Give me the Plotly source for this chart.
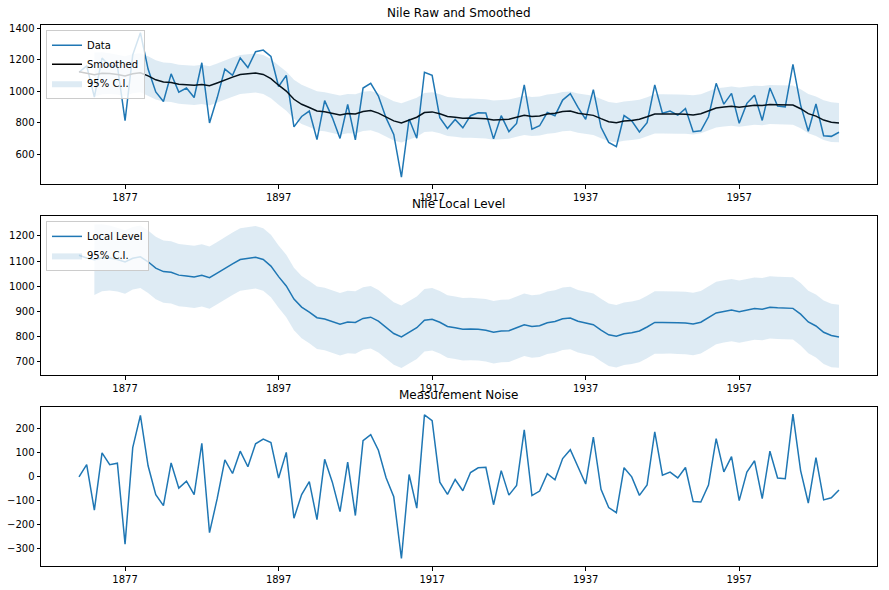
import plotly.graph_objects as go

# Nile river annual flow, 1871-1970
years = list(range(1871, 1971))
flow = [1120, 1160, 963, 1210, 1160, 1160, 813, 1230, 1370, 1140,
        995, 935, 1110, 994, 1020, 960, 1180, 799, 958, 1140,
        1100, 1210, 1150, 1250, 1260, 1220, 1030, 1100, 774, 840,
        874, 694, 940, 833, 701, 916, 692, 1020, 1050, 969,
        831, 726, 456, 824, 702, 1120, 1100, 832, 764, 821,
        768, 845, 864, 862, 698, 845, 744, 796, 1040, 759,
        781, 865, 845, 944, 984, 897, 822, 1010, 771, 676,
        649, 846, 812, 742, 801, 1040, 860, 874, 848, 890,
        744, 749, 838, 1050, 918, 986, 797, 923, 975, 815,
        1020, 906, 901, 1170, 912, 746, 919, 718, 714, 740]

# smoothed level
level = [1123, 1112, 1105, 1113, 1112, 1106, 1096, 1111, 1117, 1097,
         1072, 1058, 1055, 1044, 1041, 1037, 1043, 1034, 1052, 1072,
         1089, 1106, 1111, 1115, 1106, 1080, 1038, 1001, 949, 917,
         897, 875, 870, 858, 849, 858, 856, 872, 877, 861,
         838, 812, 799, 817, 835, 865, 869, 857, 840, 835,
         829, 830, 829, 825, 817, 822, 823, 835, 847, 840,
         843, 855, 860, 871, 874, 861, 855, 847, 826, 807,
         801, 811, 815, 822, 838, 856, 856, 857, 855, 854,
         850, 857, 875, 894, 900, 905, 899, 906, 911, 909,
         916, 914, 912, 912, 889, 858, 842, 817, 804, 798]

# 95% band, shown from 1873 on
ci_years = list(range(1873, 1971))
ci_lower = [965, 980, 983, 979, 970, 987, 993, 973,
            948, 934, 931, 920, 917, 913, 919, 910, 928, 948,
            965, 982, 987, 991, 982, 956, 914, 877, 825, 793,
            773, 751, 746, 734, 725, 734, 732, 748, 753, 737,
            714, 688, 675, 693, 711, 741, 745, 733, 716, 711,
            705, 706, 705, 701, 693, 698, 699, 711, 723, 716,
            719, 731, 736, 747, 750, 737, 731, 723, 702, 683,
            677, 687, 691, 698, 714, 732, 732, 733, 731, 730,
            726, 733, 751, 770, 776, 781, 775, 782, 787, 785,
            792, 790, 788, 788, 765, 734, 717, 691, 678, 676]
ci_upper = [1245, 1246, 1241, 1233, 1222, 1235, 1241, 1221,
            1196, 1182, 1179, 1168, 1165, 1161, 1167, 1158, 1176, 1196,
            1213, 1230, 1235, 1239, 1230, 1204, 1162, 1125, 1073, 1041,
            1021, 999, 994, 982, 973, 982, 980, 996, 1001, 985,
            962, 936, 923, 941, 959, 989, 993, 981, 964, 959,
            953, 954, 953, 949, 941, 946, 947, 959, 971, 964,
            967, 979, 984, 995, 998, 985, 979, 971, 950, 931,
            925, 935, 939, 946, 962, 980, 980, 981, 979, 978,
            974, 981, 999, 1018, 1024, 1029, 1023, 1030, 1035, 1033,
            1040, 1038, 1036, 1036, 1013, 982, 967, 943, 930, 926]

noise = [-3, 48, -142, 97, 48, 54, -283, 119, 253, 43,
         -77, -123, 55, -50, -21, -77, 137, -235, -94, 68,
         11, 104, 39, 135, 154, 140, -8, 99, -175, -77,
         -23, -181, 70, -25, -148, 58, -164, 148, 173, 108,
         -7, -86, -343, 7, -133, 255, 231, -25, -76, -14,
         -61, 15, 35, 37, -119, 23, -79, -39, 193, -81,
         -62, 10, -15, 73, 110, 36, -33, 163, -55, -131,
         -152, 35, -3, -80, -37, 184, 4, 17, -7, 36,
         -106, -108, -37, 156, 18, 81, -102, 17, 64, -94,
         104, -8, -11, 258, 23, -112, 77, -99, -90, -58]

xticks = [1877, 1897, 1917, 1937, 1957]
y1ticks = [600, 800, 1000, 1200, 1400]
y2ticks = [700, 800, 900, 1000, 1100, 1200]
y3ticks = [-300, -200, -100, 0, 100, 200]

blue = '#1f77b4'
band = 'rgba(31,119,180,0.15)'
W, H = 889, 590

fig = go.Figure()

# panel 1
fig.add_trace(go.Scatter(x=years, y=flow, mode='lines', name='Data',
                         line=dict(color=blue, width=1.5),
                         xaxis='x', yaxis='y', legend='legend'))
fig.add_trace(go.Scatter(x=years, y=level, mode='lines', name='Smoothed',
                         line=dict(color='black', width=1.5),
                         xaxis='x', yaxis='y', legend='legend'))
fig.add_trace(go.Scatter(x=ci_years, y=ci_lower, mode='lines', line=dict(width=0),
                         showlegend=False, hoverinfo='skip',
                         xaxis='x', yaxis='y', legend='legend'))
fig.add_trace(go.Scatter(x=ci_years, y=ci_upper, mode='lines', line=dict(width=0),
                         fill='tonexty', fillcolor=band, name='95% C.I.',
                         xaxis='x', yaxis='y', legend='legend'))

# panel 2
fig.add_trace(go.Scatter(x=years, y=level, mode='lines', name='Local Level',
                         line=dict(color=blue, width=1.5),
                         xaxis='x2', yaxis='y2', legend='legend2'))
fig.add_trace(go.Scatter(x=ci_years, y=ci_lower, mode='lines', line=dict(width=0),
                         showlegend=False, hoverinfo='skip',
                         xaxis='x2', yaxis='y2', legend='legend2'))
fig.add_trace(go.Scatter(x=ci_years, y=ci_upper, mode='lines', line=dict(width=0),
                         fill='tonexty', fillcolor=band, name='95% C.I.',
                         xaxis='x2', yaxis='y2', legend='legend2'))

# panel 3
fig.add_trace(go.Scatter(x=years, y=noise, mode='lines', showlegend=False,
                         line=dict(color=blue, width=1.5),
                         xaxis='x3', yaxis='y3'))

xdom = [41 / W, 877 / W]
doms = [[1 - 182.3 / H, 1 - 22.3 / H],
        [1 - 374 / H, 1 - 214.3 / H],
        [1 - 566.3 / H, 1 - 406.3 / H]]

ax_style = dict(showline=True, linecolor='black', linewidth=1, mirror=True,
                ticks='outside', ticklen=3.5, tickwidth=1, tickcolor='black',
                showgrid=False, zeroline=False,
                tickfont=dict(family='DejaVu Sans', size=10, color='black'))

def minus(v):
    return str(v).replace('-', '\u2212')

layout = dict(width=W, height=H, margin=dict(l=0, r=0, t=0, b=0),
              paper_bgcolor='white', plot_bgcolor='white',
              font=dict(family='DejaVu Sans', size=10, color='black'))
yranges = [[410, 1418], [647, 1278], [-376, 287]]
yticks = [y1ticks, y2ticks, y3ticks]
for i in range(3):
    s = '' if i == 0 else str(i + 1)
    layout['xaxis' + s] = dict(ax_style, domain=xdom, range=[1866.05, 1974.95],
                               tickvals=xticks, ticktext=[str(t) for t in xticks],
                               anchor='y' + s)
    layout['yaxis' + s] = dict(ax_style, domain=doms[i], range=yranges[i],
                               tickvals=yticks[i], ticktext=[minus(t) for t in yticks[i]],
                               anchor='x' + s)
fig.update_layout(**layout)

leg = dict(xanchor='left', yanchor='top', bgcolor='rgba(255,255,255,0.8)',
           bordercolor='#cccccc', borderwidth=1, tracegroupgap=0, itemwidth=30,
           traceorder='normal',
           font=dict(family='DejaVu Sans', size=10, color='black'))
fig.update_layout(legend=dict(leg, x=46 / W, y=1 - 27 / H),
                  legend2=dict(leg, x=46 / W, y=1 - 219 / H))

titles = ['Nile Raw and Smoothed', 'Nile Local Level', 'Measurement Noise']
for i, t in enumerate(titles):
    fig.add_annotation(text=t, xref='paper', yref='paper', x=(xdom[0] + xdom[1]) / 2,
                       y=doms[i][1], yshift=3, xanchor='center', yanchor='bottom',
                       showarrow=False, font=dict(family='DejaVu Sans', size=12, color='black'))

# drop the page's default body margin so the figure sits at the window corner
fig.write_html("out.html", config={'displayModeBar': False},
               post_script="document.body.style.margin='0';")
